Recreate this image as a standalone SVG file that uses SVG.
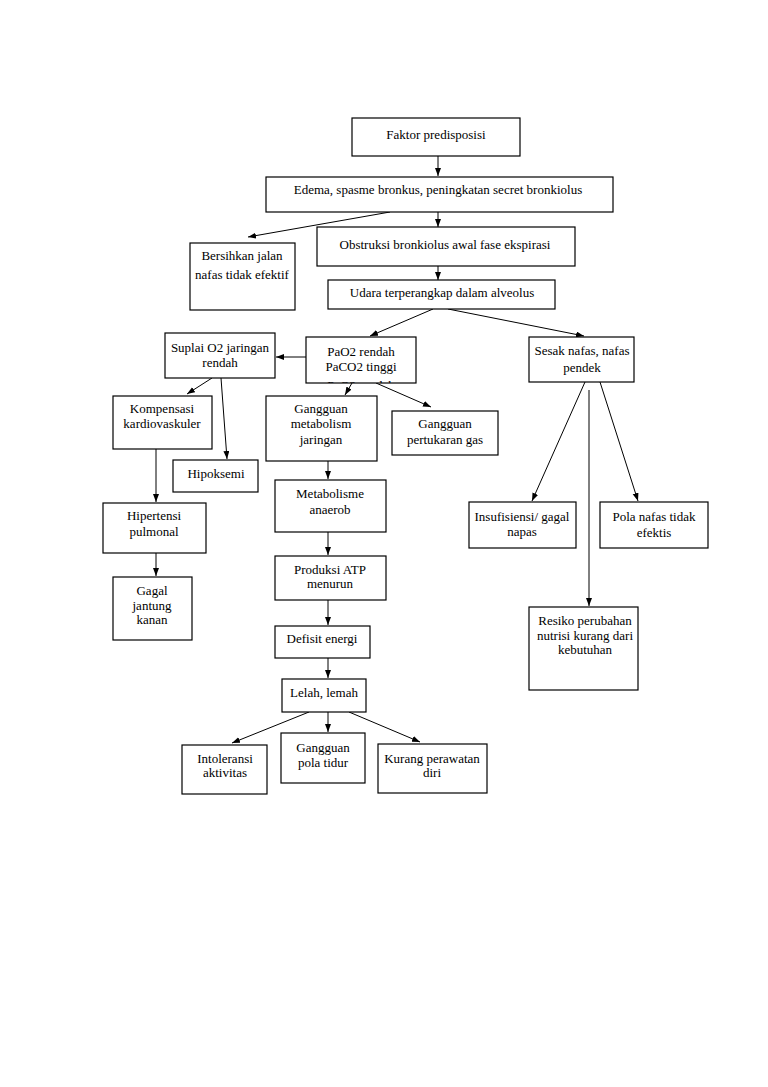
<svg xmlns="http://www.w3.org/2000/svg" width="768" height="1087" viewBox="0 0 768 1087">
<style>
.box{fill:#fff;stroke:#000;stroke-width:1.2}
.t{font-family:"Liberation Serif","Times New Roman",serif;font-size:13px;fill:#000;text-anchor:middle}
.c line{stroke:#000;stroke-width:1;marker-end:url(#ah)}
</style>
<defs>
<marker id="ah" markerUnits="userSpaceOnUse" markerWidth="9" markerHeight="7" refX="8" refY="3" orient="auto">
<path d="M0,0 L8,3 L0,6 z" fill="#000"/>
</marker>
<clipPath id="pclip"><rect x="306" y="337" width="110" height="46"/></clipPath>
</defs>
<rect width="768" height="1087" fill="#fff"/>
<g id="connectors" class="c">
<line x1="438" y1="156" x2="438" y2="176"/>
<line x1="390" y1="212" x2="248" y2="237"/>
<line x1="438" y1="212" x2="438" y2="227"/>
<line x1="438" y1="266" x2="438" y2="280"/>
<line x1="433" y1="309" x2="370" y2="336"/>
<line x1="448" y1="309" x2="584" y2="336"/>
<line x1="306" y1="357" x2="276" y2="357"/>
<line x1="212" y1="378" x2="187" y2="394"/>
<line x1="221" y1="378" x2="227" y2="459"/>
<line x1="352" y1="383" x2="345" y2="395"/>
<line x1="376" y1="383" x2="431" y2="407"/>
<line x1="585" y1="382" x2="532" y2="501"/>
<line x1="589" y1="390" x2="589" y2="606"/>
<line x1="600" y1="382" x2="638" y2="501"/>
<line x1="156" y1="449" x2="156" y2="502"/>
<line x1="156" y1="553" x2="156" y2="576"/>
<line x1="328" y1="461" x2="328" y2="479"/>
<line x1="328" y1="532" x2="328" y2="555"/>
<line x1="328" y1="600" x2="328" y2="625"/>
<line x1="328" y1="658" x2="328" y2="678"/>
<line x1="309" y1="712" x2="232" y2="743"/>
<line x1="328" y1="712" x2="328" y2="732"/>
<line x1="349" y1="712" x2="420" y2="742"/>
</g>
<g id="n1"><rect class="box" x="352" y="118" width="168" height="38"/><text class="t" x="436" y="139">Faktor predisposisi</text></g>
<g id="n2"><rect class="box" x="266" y="177" width="347" height="35"/><text class="t" x="438" y="194">Edema, spasme bronkus, peningkatan secret bronkiolus</text></g>
<g id="n3"><rect class="box" x="190" y="243" width="105" height="67"/><text class="t" x="242" y="260">Bersihkan jalan</text><text class="t" x="242" y="279">nafas tidak efektif</text></g>
<g id="n4"><rect class="box" x="317" y="227" width="258" height="39"/><text class="t" x="445" y="249">Obstruksi bronkiolus awal fase ekspirasi</text></g>
<g id="n5"><rect class="box" x="328" y="280" width="227" height="29"/><text class="t" x="442" y="297">Udara terperangkap dalam alveolus</text></g>
<g id="n6"><rect class="box" x="165" y="333" width="110" height="45"/><text class="t" x="220" y="352">Suplai O2 jaringan</text><text class="t" x="220" y="367">rendah</text></g>
<g id="n7"><rect class="box" x="306" y="337" width="110" height="46"/><g clip-path="url(#pclip)"><text class="t" x="361" y="356">PaO2 rendah</text><text class="t" x="361" y="371">PaCO2 tinggi</text><text class="t" x="361" y="390">PaO2 rendah</text></g></g>
<g id="n8"><rect class="box" x="529" y="337" width="105" height="45"/><text class="t" x="582" y="355">Sesak nafas, nafas</text><text class="t" x="582" y="372">pendek</text></g>
<g id="n9"><rect class="box" x="113" y="396" width="99" height="53"/><text class="t" x="162" y="413">Kompensasi</text><text class="t" x="162" y="428">kardiovaskuler</text></g>
<g id="n10"><rect class="box" x="173" y="460" width="85" height="32"/><text class="t" x="216" y="478">Hipoksemi</text></g>
<g id="n11"><rect class="box" x="266" y="396" width="111" height="65"/><text class="t" x="321" y="413">Gangguan</text><text class="t" x="321" y="428">metabolism</text><text class="t" x="321" y="444">jaringan</text></g>
<g id="n12"><rect class="box" x="392" y="411" width="106" height="44"/><text class="t" x="445" y="428">Gangguan</text><text class="t" x="445" y="444">pertukaran gas</text></g>
<g id="n13"><rect class="box" x="275" y="480" width="111" height="52"/><text class="t" x="330" y="498">Metabolisme</text><text class="t" x="330" y="514">anaerob</text></g>
<g id="n14"><rect class="box" x="275" y="556" width="111" height="44"/><text class="t" x="330" y="574">Produksi ATP</text><text class="t" x="330" y="588">menurun</text></g>
<g id="n15"><rect class="box" x="275" y="626" width="95" height="32"/><text class="t" x="322" y="643">Defisit energi</text></g>
<g id="n16"><rect class="box" x="103" y="503" width="103" height="50"/><text class="t" x="154" y="520">Hipertensi</text><text class="t" x="154" y="536">pulmonal</text></g>
<g id="n17"><rect class="box" x="113" y="577" width="79" height="63"/><text class="t" x="152" y="595">Gagal</text><text class="t" x="152" y="610">jantung</text><text class="t" x="152" y="624">kanan</text></g>
<g id="n18"><rect class="box" x="469" y="502" width="107" height="46"/><text class="t" x="522" y="521">Insufisiensi/ gagal</text><text class="t" x="522" y="536">napas</text></g>
<g id="n19"><rect class="box" x="600" y="502" width="108" height="46"/><text class="t" x="654" y="521">Pola nafas tidak</text><text class="t" x="654" y="537">efektis</text></g>
<g id="n20"><rect class="box" x="529" y="607" width="109" height="83"/><text class="t" x="585" y="625">Resiko perubahan</text><text class="t" x="585" y="640">nutrisi kurang dari</text><text class="t" x="585" y="654">kebutuhan</text></g>
<g id="n21"><rect class="box" x="282" y="679" width="84" height="33"/><text class="t" x="324" y="697">Lelah, lemah</text></g>
<g id="n22"><rect class="box" x="182" y="745" width="85" height="49"/><text class="t" x="225" y="763">Intoleransi</text><text class="t" x="225" y="777">aktivitas</text></g>
<g id="n23"><rect class="box" x="281" y="733" width="84" height="50"/><text class="t" x="323" y="752">Gangguan</text><text class="t" x="323" y="767">pola tidur</text></g>
<g id="n24"><rect class="box" x="378" y="744" width="109" height="49"/><text class="t" x="432" y="763">Kurang perawatan</text><text class="t" x="432" y="777">diri</text></g>
</svg>
